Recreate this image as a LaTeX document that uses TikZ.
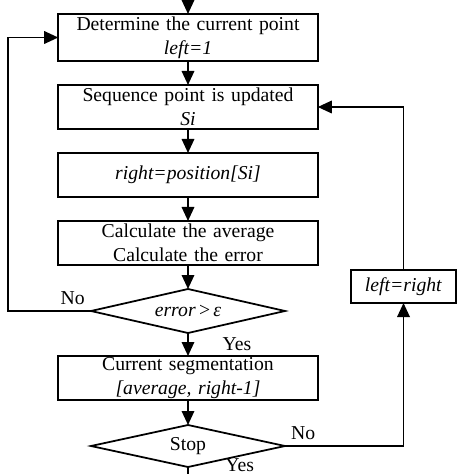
\documentclass[tikz,border=0pt]{standalone}
\usepackage{fontspec}
\setmainfont{Liberation Serif}
\usepackage{tikz}
\usetikzlibrary{shapes.geometric, arrows.meta, positioning, calc}
\tikzset{
  procbox/.style={rectangle, draw, line width=1pt, text width=5.12cm,
                  text centered, minimum height=0.88cm, inner xsep=1pt,
                  inner ysep=0pt, outer sep=0pt,
                  font=\fontsize{11.2}{13.6}\selectfont},
  smallbox/.style={rectangle, draw, line width=1pt, minimum width=2.1cm,
                   minimum height=0.66cm, inner sep=0pt, outer sep=0pt,
                   font=\fontsize{11.2}{13.6}\selectfont},
  testbox/.style={diamond, draw, line width=1pt, minimum width=3.88cm,
                  minimum height=0.88cm, inner sep=0pt, outer sep=0pt,
                  aspect=4, font=\fontsize{11.2}{13.6}\selectfont},
  lbl/.style={font=\fontsize{11.2}{13.6}\selectfont},
  arr/.style={-{Triangle[length=2.8mm, width=2.5mm]}, line width=1pt},
}

\begin{document}
\begin{tikzpicture}[node distance=0.48cm]
  \useasboundingbox (-3.76,0.75) rectangle (5.72,-8.73);

  % Nodes
  \node [procbox, minimum height=0.94cm] (det) at (0,0)
    {Determine the current point\\\textit{left=1}};
  \node [procbox, below=of det] (seq)
    {Sequence point is updated\\\textit{Si}};
  \node [procbox, below=of seq] (pos)
    {\textit{right=position[Si]}};
  \node [procbox, below=of pos] (calc)
    {Calculate the average\\Calculate the error};
  \node [testbox, below=of calc] (err)
    {\textit{error}\,>\,\textit{ε}};
  \node [procbox, below=0.46cm of err] (seg)
    {Current segmentation\\\textit{[average, right-1]}};
  \node [testbox, minimum height=0.84cm, below=0.5cm of seg] (stop) {Stop};
  \node [smallbox] (lr) at ($(err)+(4.31,0.49)$) {\textit{left=right}};

  \coordinate [above=0.4cm of det] (start);
  \coordinate [below=0.4cm of stop] (finish);

  % Edges
  \draw [arr] (start) -- (det);
  \draw [arr] (det) -- (seq);
  \draw [arr] (seq) -- (pos);
  \draw [arr] (pos) -- (calc);
  \draw [arr] (calc) -- (err);
  \draw [arr] (err) -- node[lbl, right, xshift=0.56cm] {Yes} (seg);
  \draw [arr] (seg) -- (stop);
  \draw [arr] (err.west) -- ++(-1.66,0) |- (det.west);
  \node [lbl, above left] at (err.west) {No};
  \draw [arr] (stop.east) -| (lr.south);
  \node [lbl, above right] at (stop.east) {No};
  \draw [arr] (lr.north) |- (seq.east);
  \draw [line width=1pt] (stop.south) -- (finish);
  \node [lbl, anchor=base west, inner sep=0pt] at ($(stop.south)+(0.74,-0.08)$) {Yes};
\end{tikzpicture}
\end{document}
